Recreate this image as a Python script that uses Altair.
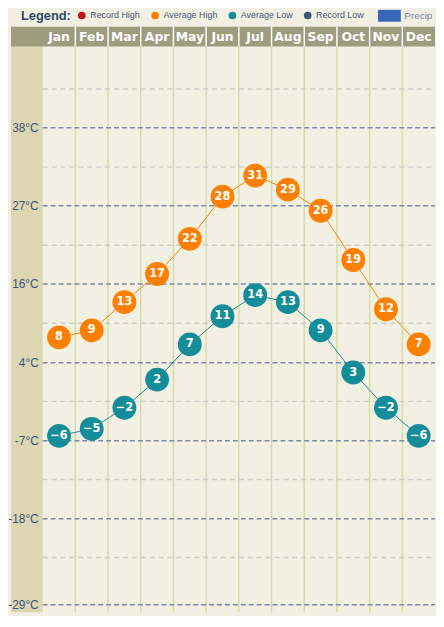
import pandas as pd
import altair as alt

# Monthly climate values (deg C)
months = ["Jan", "Feb", "Mar", "Apr", "May", "Jun", "Jul", "Aug", "Sep", "Oct", "Nov", "Dec"]
avg_high = [8, 9, 13, 17, 22, 28, 31, 29, 26, 19, 12, 7]
avg_low = [-6, -5, -2, 2, 7, 11, 14, 13, 9, 3, -2, -6]

# Grid lines (20 F steps shown in C) and their labels
major_vals = [37.8, 26.7, 15.6, 4.4, -6.7, -17.8, -30.0]
major_labels = ["38°C", "27°C", "16°C", "4°C", "-7°C", "-18°C", "-29°C"]
minor_vals = [43.3, 32.2, 21.1, 10.0, -1.1, -12.2, -23.3]

legend_items = ["Record High", "Average High", "Average Low", "Record Low"]
legend_colors = ["#c4121a", "#ff8000", "#148c99", "#3c5676"]
line_items = ["Average High", "Average Low"]
line_colors = ["#ff8000", "#148c99"]
precip_item = ["Precip"]

temps = pd.DataFrame({
    "month": months * 2,
    "series": ["Average High"] * 12 + ["Average Low"] * 12,
    "temp": avg_high + avg_low,
})
majors = pd.DataFrame({"v": major_vals, "label": major_labels})
minors = pd.DataFrame({"v": minor_vals})
edges = pd.DataFrame({"month": months[1:]})
heads = pd.DataFrame({"month": months})
one = pd.DataFrame({"k": [0]})
precip = pd.DataFrame({"item": pd.Series([], dtype=str)})

W, H = 396, 571
x_scale = alt.Scale(domain=months, paddingInner=0, paddingOuter=0)
y_scale = alt.Scale(domain=[-31.07, 49.35], nice=False, zero=False)

band = alt.Chart(one).mark_rect(color="#ddd6b2").encode(
    x=alt.value(-32), x2=alt.value(0), y=alt.value(0), y2=alt.value("height")
)
header = alt.Chart(one).mark_rect(color="#9e9c7e").encode(
    x=alt.value(-32), x2=alt.value("width"), y=alt.value(-20), y2=alt.value(0)
)
head_sep = alt.Chart(edges).mark_rule(color="white", strokeWidth=1.5).encode(
    x=alt.X("month:N", scale=x_scale, axis=None, bandPosition=0),
    y=alt.value(-20), y2=alt.value(0)
)
col_sep = alt.Chart(edges).mark_rule(color="#d6dca6", strokeWidth=1.5).encode(
    x=alt.X("month:N", scale=x_scale, axis=None, bandPosition=0),
    y=alt.value(0), y2=alt.value("height")
)
minor_grid = alt.Chart(minors).mark_rule(color="#cdccc6", strokeWidth=1.5, strokeDash=[5, 4]).encode(
    y=alt.Y("v:Q", scale=y_scale, axis=None),
    x=alt.value(0), x2=alt.value("width")
)
major_grid = alt.Chart(majors).mark_rule(color="#7d88a6", strokeWidth=1.5, strokeDash=[5, 3]).encode(
    y=alt.Y("v:Q", scale=y_scale, axis=None),
    x=alt.value(0), x2=alt.value("width")
)
y_labels = alt.Chart(majors).mark_text(
    align="right", baseline="middle", font="Liberation Sans", fontSize=12, color="#3a5479"
).encode(
    y=alt.Y("v:Q", scale=y_scale, axis=None),
    x=alt.value(-4), text="label:N"
)
month_labels = alt.Chart(heads).mark_text(
    baseline="middle", font="DejaVu Sans", fontWeight="bold", fontSize=12.5, color="white"
).encode(
    x=alt.X("month:N", scale=x_scale, axis=None),
    y=alt.value(-10), text="month:N"
)

lines = alt.Chart(temps).mark_line(strokeWidth=1).encode(
    x=alt.X("month:N", scale=x_scale, axis=None),
    y=alt.Y("temp:Q", scale=y_scale, axis=None),
    stroke=alt.Stroke("series:N", scale=alt.Scale(domain=line_items, range=line_colors), legend=None),
    detail="series:N"
)
points = alt.Chart(temps).mark_circle(size=580, opacity=1).encode(
    x=alt.X("month:N", scale=x_scale, axis=None),
    y=alt.Y("temp:Q", scale=y_scale, axis=None),
    color=alt.Color(
        "series:N",
        scale=alt.Scale(domain=legend_items, range=legend_colors),
        legend=alt.Legend(
            orient="none", legendX=-22, legendY=-36, direction="horizontal",
            title="Legend:", titleOrient="left", titleFont="Liberation Sans",
            titleFontSize=13, titleFontWeight="bold", titleColor="#2e4a6b",
            titlePadding=6, labelFont="Liberation Sans", labelFontSize=9,
            labelColor="#44597a", symbolSize=60, symbolType="circle",
            symbolStrokeWidth=0, columnPadding=10, labelOffset=4, padding=0
        )
    )
)
point_text = alt.Chart(temps).mark_text(
    font="DejaVu Sans", fontWeight="bold", fontSize=11.5, color="white", baseline="middle"
).encode(
    x=alt.X("month:N", scale=x_scale, axis=None),
    y=alt.Y("temp:Q", scale=y_scale, axis=None),
    text=alt.Text("temp:Q", format="d")
)
precip_key = alt.Chart(precip).mark_square(opacity=1).encode(
    fill=alt.Fill(
        "item:N",
        scale=alt.Scale(domain=precip_item, range=["#3766b6"]),
        legend=alt.Legend(
            orient="none", legendX=345, legendY=-36, title=None,
            labelFont="Liberation Sans", labelFontSize=10, labelColor="#7487aa",
            symbolType="M-2.3,-1.2H2.3V1.2H-2.3Z", symbolSize=100,
            symbolStrokeWidth=0, labelOffset=10, padding=0
        )
    )
)

chart = alt.layer(
    band, header, head_sep, col_sep, minor_grid, major_grid, y_labels, month_labels,
    lines, points, point_text, precip_key
).properties(
    width=W, height=H, padding=0, background="#f2f0e2"
).configure_view(
    stroke=None, fill="#efecda"
)

chart.save("out.html", embed_options={"renderer": "svg", "actions": False})
